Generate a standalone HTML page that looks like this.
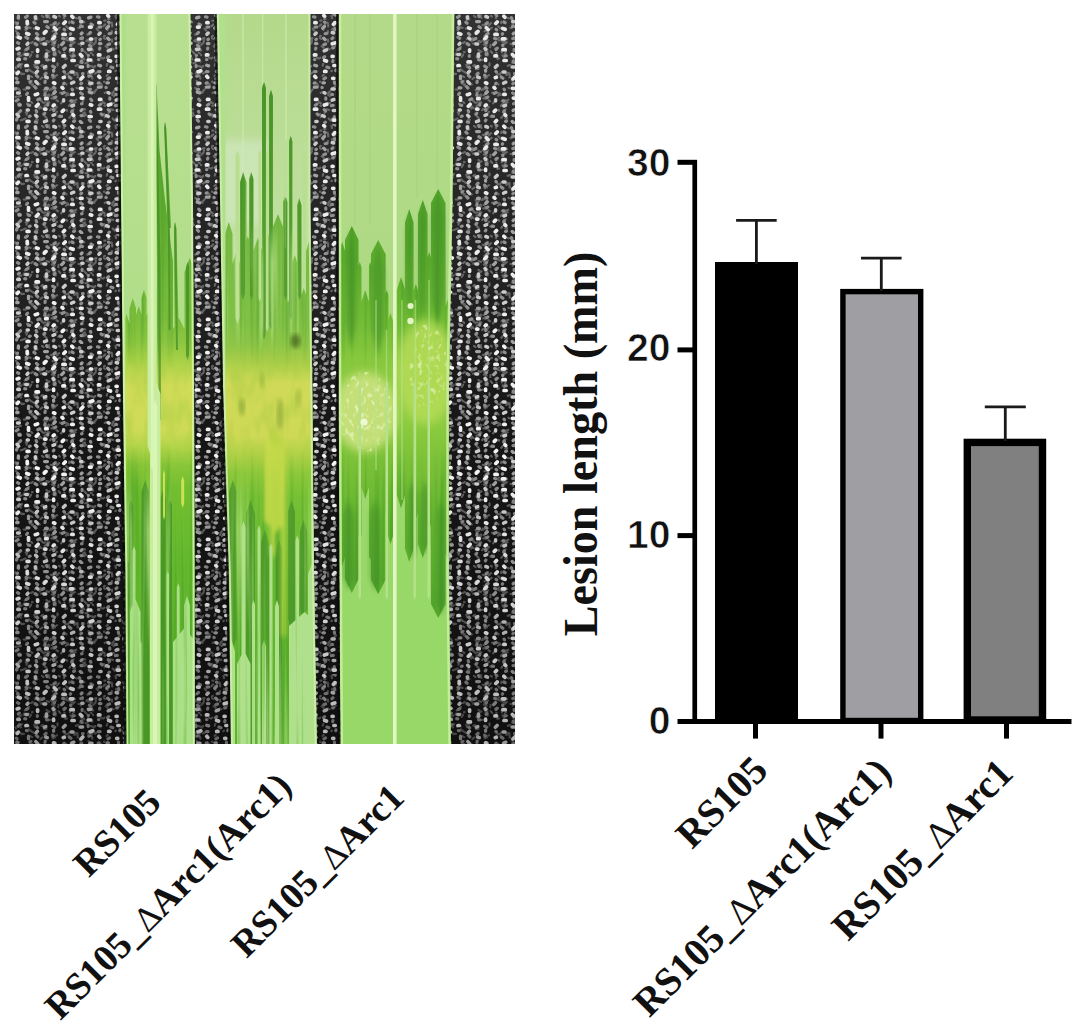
<!DOCTYPE html>
<html><head><meta charset="utf-8"><title>Figure</title>
<style>
html,body{margin:0;padding:0;background:#fff}
body{width:1083px;height:1033px;overflow:hidden;position:relative}
svg{position:absolute;left:0;top:0;display:block}
.tk{font-family:"Liberation Sans",sans-serif;font-weight:bold;font-size:39px;fill:#111;stroke:#fff;stroke-width:0.7px;paint-order:fill stroke}
.yl{font-family:"Liberation Serif",serif;font-weight:bold;font-size:48px;fill:#111}
.xl{font-family:"Liberation Serif",serif;font-weight:bold;fill:#111}
.d{font-weight:normal;font-size:0.93em}
</style></head><body>
<svg width="1083" height="1033" viewBox="0 0 1083 1033">
<defs>
<clipPath id="lc1"><polygon points="119.3,14.0 121.0,200.0 122.8,386.0 125.3,572.0 126.3,744.0 194.7,744.0 194.7,572.0 194.0,386.0 193.0,200.0 190.5,14.0"/></clipPath>
<clipPath id="lc2"><polygon points="216.8,14.0 220.0,200.0 223.0,386.0 228.7,572.0 230.8,744.0 316.8,744.0 314.0,572.0 312.3,386.0 310.5,200.0 310.5,14.0"/></clipPath>
<clipPath id="lc3"><polygon points="338.6,14.0 338.6,200.0 338.6,386.0 339.3,572.0 340.4,744.0 451.0,744.0 449.0,572.0 449.0,386.0 452.6,200.0 454.4,14.0"/></clipPath>
<linearGradient id="nobg" gradientUnits="userSpaceOnUse" x1="0" y1="0" x2="0" y2="800"><stop offset="0" stop-color="#fff"/><stop offset="0.41" stop-color="#fff"/><stop offset="0.46" stop-color="#000"/><stop offset="0.555" stop-color="#000"/><stop offset="0.61" stop-color="#fff"/><stop offset="1" stop-color="#fff"/></linearGradient>
<mask id="nob" maskUnits="userSpaceOnUse" x="0" y="0" width="600" height="800"><rect x="0" y="0" width="600" height="800" fill="url(#nobg)"/></mask>
<clipPath id="pc"><rect x="14" y="14" width="501" height="730"/></clipPath>
<linearGradient id="mlowg" gradientUnits="userSpaceOnUse" x1="0" y1="0" x2="0" y2="800"><stop offset="0.0000" stop-color="rgb(0,0,0)"/><stop offset="0.5875" stop-color="rgb(0,0,0)"/><stop offset="0.6625" stop-color="rgb(255,255,255)"/><stop offset="1.0000" stop-color="rgb(255,255,255)"/></linearGradient><mask id="mlow" maskUnits="userSpaceOnUse" x="0" y="0" width="600" height="800"><rect x="0" y="0" width="600" height="800" fill="url(#mlowg)"/></mask>
<linearGradient id="mlow2g" gradientUnits="userSpaceOnUse" x1="0" y1="0" x2="0" y2="800"><stop offset="0.0000" stop-color="rgb(0,0,0)"/><stop offset="0.7063" stop-color="rgb(0,0,0)"/><stop offset="0.8000" stop-color="rgb(255,255,255)"/><stop offset="1.0000" stop-color="rgb(255,255,255)"/></linearGradient><mask id="mlow2" maskUnits="userSpaceOnUse" x="0" y="0" width="600" height="800"><rect x="0" y="0" width="600" height="800" fill="url(#mlow2g)"/></mask>
<linearGradient id="mup2g" gradientUnits="userSpaceOnUse" x1="0" y1="0" x2="0" y2="800"><stop offset="0.0000" stop-color="rgb(0,0,0)"/><stop offset="0.2812" stop-color="rgb(0,0,0)"/><stop offset="0.3275" stop-color="rgb(255,255,255)"/><stop offset="0.4062" stop-color="rgb(255,255,255)"/><stop offset="0.4400" stop-color="rgb(0,0,0)"/><stop offset="1.0000" stop-color="rgb(0,0,0)"/></linearGradient><mask id="mup2" maskUnits="userSpaceOnUse" x="0" y="0" width="600" height="800"><rect x="0" y="0" width="600" height="800" fill="url(#mup2g)"/></mask>
<linearGradient id="mbandg" gradientUnits="userSpaceOnUse" x1="0" y1="0" x2="0" y2="800"><stop offset="0.0000" stop-color="rgb(0,0,0)"/><stop offset="0.4375" stop-color="rgb(0,0,0)"/><stop offset="0.4750" stop-color="rgb(255,255,255)"/><stop offset="0.5475" stop-color="rgb(255,255,255)"/><stop offset="0.5850" stop-color="rgb(0,0,0)"/><stop offset="1.0000" stop-color="rgb(0,0,0)"/></linearGradient><mask id="mband" maskUnits="userSpaceOnUse" x="0" y="0" width="600" height="800"><rect x="0" y="0" width="600" height="800" fill="url(#mbandg)"/></mask>
<filter id="mott" x="0" y="0" width="100%" height="100%" color-interpolation-filters="sRGB">
<feTurbulence type="fractalNoise" baseFrequency="0.09 0.035" numOctaves="2" seed="14"/>
<feColorMatrix type="matrix" values="0 0 0 0 0.50  0 0 0 0 0.74  0 0 0 0 0.18  0 0 3.2 0 -1.35"/>
<feComposite in2="SourceGraphic" operator="in"/></filter>
<linearGradient id="gz1" gradientUnits="userSpaceOnUse" x1="0" y1="0" x2="0" y2="800"><stop offset="0.1000" stop-color="#4f9a2c"/><stop offset="0.2500" stop-color="#5eaa30"/><stop offset="0.3250" stop-color="#6cb436"/><stop offset="0.4000" stop-color="#7cbe3c"/><stop offset="0.4275" stop-color="#8cc640"/><stop offset="0.4525" stop-color="#aad248"/><stop offset="0.4813" stop-color="#d0dc58"/><stop offset="0.5375" stop-color="#cedb56"/><stop offset="0.5600" stop-color="#b0d448"/><stop offset="0.5825" stop-color="#88c638"/><stop offset="0.6100" stop-color="#72be30"/><stop offset="0.7000" stop-color="#64b82c"/><stop offset="0.8250" stop-color="#5eb42c"/><stop offset="1.0000" stop-color="#60b430"/></linearGradient>
<linearGradient id="gz2" gradientUnits="userSpaceOnUse" x1="0" y1="0" x2="0" y2="800"><stop offset="0.1000" stop-color="#4f9a2c"/><stop offset="0.2250" stop-color="#62ac36"/><stop offset="0.3000" stop-color="#78ba44"/><stop offset="0.4000" stop-color="#80c046"/><stop offset="0.4313" stop-color="#8ec646"/><stop offset="0.4562" stop-color="#aed04a"/><stop offset="0.4800" stop-color="#d0da58"/><stop offset="0.5450" stop-color="#ced956"/><stop offset="0.5675" stop-color="#b2d248"/><stop offset="0.5925" stop-color="#8cc83a"/><stop offset="0.6225" stop-color="#76c034"/><stop offset="0.7000" stop-color="#68ba30"/><stop offset="0.8250" stop-color="#60b42e"/><stop offset="1.0000" stop-color="#60b432"/></linearGradient>
<linearGradient id="gz3" gradientUnits="userSpaceOnUse" x1="0" y1="0" x2="0" y2="800"><stop offset="0.1000" stop-color="#4f9a2c"/><stop offset="0.2375" stop-color="#52a42c"/><stop offset="0.3250" stop-color="#5eae2e"/><stop offset="0.4000" stop-color="#72bc36"/><stop offset="0.4500" stop-color="#88c83e"/><stop offset="0.5250" stop-color="#8ecc40"/><stop offset="0.5750" stop-color="#7cc238"/><stop offset="0.6500" stop-color="#64b430"/><stop offset="0.7500" stop-color="#56a82e"/><stop offset="1.0000" stop-color="#54a630"/></linearGradient>
<filter id="fib" x="0" y="0" width="100%" height="100%" color-interpolation-filters="sRGB">
<feTurbulence type="fractalNoise" baseFrequency="0.2 0.0035" numOctaves="2" seed="5"/>
<feColorMatrix type="matrix" values="0 0 0 0 0.22  0 0 0 0 0.56  0 0 0 0 0.12  3.4 0 0 0 -1.62"/>
<feComposite in2="SourceGraphic" operator="in"/></filter>
<filter id="fib2" x="0" y="0" width="100%" height="100%" color-interpolation-filters="sRGB">
<feTurbulence type="fractalNoise" baseFrequency="0.24 0.004" numOctaves="2" seed="31"/>
<feColorMatrix type="matrix" values="0 0 0 0 0.36  0 0 0 0 0.70  0 0 0 0 0.18  4.2 0 0 0 -2.1"/>
<feComposite in2="SourceGraphic" operator="in"/></filter>
<filter id="fleck" x="0" y="0" width="100%" height="100%" color-interpolation-filters="sRGB">
<feTurbulence type="fractalNoise" baseFrequency="0.22 0.16" numOctaves="2" seed="9"/>
<feColorMatrix type="matrix" values="0 0 0 0 0.93  0 0 0 0 0.97  0 0 0 0 0.78  0 0 4.5 0 -2.45"/>
<feComposite in2="SourceGraphic" operator="in"/></filter>
<filter id="fibp" x="0" y="0" width="100%" height="100%" color-interpolation-filters="sRGB">
<feTurbulence type="fractalNoise" baseFrequency="0.17 0.003" numOctaves="2" seed="23"/>
<feColorMatrix type="matrix" values="0 0 0 0 0.80  0 0 0 0 0.94  0 0 0 0 0.62  0 3.6 0 0 -1.85"/>
<feComposite in2="SourceGraphic" operator="in"/></filter>
<linearGradient id="pg1" gradientUnits="userSpaceOnUse" x1="0" y1="14" x2="0" y2="744"><stop offset="0" stop-color="#b8df90"/><stop offset="0.3" stop-color="#b4de8c"/><stop offset="0.75" stop-color="#a6de80"/><stop offset="1" stop-color="#a6de80"/></linearGradient>
<linearGradient id="pg2" gradientUnits="userSpaceOnUse" x1="0" y1="14" x2="0" y2="744"><stop offset="0" stop-color="#b4d98a"/><stop offset="0.3" stop-color="#bfe0a0"/><stop offset="0.75" stop-color="#a8dc86"/><stop offset="1" stop-color="#a8dc86"/></linearGradient>
<linearGradient id="pg3" gradientUnits="userSpaceOnUse" x1="0" y1="14" x2="0" y2="744"><stop offset="0" stop-color="#b3da88"/><stop offset="0.3" stop-color="#b0da86"/><stop offset="0.75" stop-color="#98d868"/><stop offset="1" stop-color="#98d868"/></linearGradient>
<pattern id="fab" patternUnits="userSpaceOnUse" x="14" y="14" width="108.0" height="110.0"><rect width="108.0" height="110.0" fill="#131313"/><path d="M5.4,34.3l0.6,0.1M28.5,63.4l-2.1,1.6M18.8,28.0l-1.7,1.0M87.4,84.4l-2.2,-0.4M38.9,23.9l2.4,-2.3M51.9,81.7l2.4,-1.8M48.4,80.0l-2.3,-1.3M93.6,16.0l-0.5,-1.0M45.1,9.1l-2.3,2.5M80.4,78.8l-1.4,-1.2M58.4,26.6l-0.2,2.2M38.9,36.7l2.4,0.6M5.1,43.7l0.7,-2.2M36.7,74.6l1.8,0.5M93.2,50.0l-0.5,1.7M40.6,83.8l-1.4,-0.8M20.1,59.3l-1.7,-1.5M23.3,50.6l-1.0,-0.3M104.3,73.0l1.8,-1.5M40.8,8.7l1.0,-0.7M29.5,3.0l-1.6,-1.2M41.9,98.9l1.1,-1.2M38.6,17.3l2.2,-0.7M80.6,77.7l2.0,-2.4M34.5,41.7l-2.1,1.9M34.8,82.7l0.1,-2.2M42.0,26.3l-2.3,-1.7M62.9,4.4l-0.9,-0.4M57.6,15.4l1.0,-1.2M76.4,71.6l-1.8,-1.5M30.2,76.6l-0.5,-0.6M91.1,25.0l-1.0,-0.8M23.4,5.3l-2.4,0.7M59.9,86.7l2.4,-1.0M70.7,98.4l-1.4,0.9M70.3,102.2l1.8,-1.3M66.8,10.5l-0.4,-0.5M7.3,41.6l-0.9,-0.0M30.1,17.8l-0.5,-0.1M18.3,71.5l-1.3,-2.0M36.6,45.8l-1.7,0.4M73.9,59.6l1.0,-2.4M41.7,39.6l-2.2,-0.5M6.7,53.5l0.4,-0.2M34.9,27.9l-2.4,-0.8M93.7,61.0l-1.2,0.8M20.3,50.7l0.6,2.3M38.7,62.1l2.2,1.4M66.2,66.8l-0.4,-0.4M29.7,88.9l1.9,-0.6M95.6,5.0l-1.8,0.0M33.1,39.2l2.4,-1.8M21.0,25.2l0.9,-1.3M1.1,58.6l-0.5,-1.3M52.3,69.9l0.2,0.6M59.3,89.1l2.3,-0.8M37.1,95.0l-0.9,1.1M73.3,73.8l2.3,1.6M17.6,66.9l-0.0,0.3M39.4,31.3l1.2,0.2M25.7,27.4l-0.9,-1.6M54.4,14.4l-2.2,-2.2M11.6,75.7l-1.9,-0.2M81.3,52.0l-1.7,1.8M91.5,6.7l-1.2,0.0M83.8,42.6l1.1,-1.2M75.4,35.6l-0.8,1.3M88.6,88.8l0.3,-0.4M74.5,67.0l1.7,1.5M14.0,41.0l0.8,-1.3M20.2,2.5l0.4,2.2M101.9,15.2l0.9,-0.4M66.7,43.1l2.2,2.4M6.1,76.6l-1.9,-2.3M30.7,78.5l2.5,-1.9M35.3,3.8l0.2,-0.1M39.8,33.8l1.5,1.7M30.5,42.5l0.6,1.3M103.0,42.3l1.0,0.2M84.2,16.6l-1.6,-2.0M98.1,27.6l-0.1,-1.9M34.7,3.0l0.3,-1.8M66.0,30.0l-1.4,-0.1M39.0,28.5l-2.2,-2.2M93.8,33.8l-2.1,-1.6M51.3,106.7l-1.5,1.8M51.4,44.9l1.5,-0.5M7.0,59.4l0.8,0.6M29.8,100.5l1.8,2.5M47.1,89.4l1.1,-1.6M3.8,18.9l-1.9,-2.1M38.3,80.9l-0.9,0.1M2.1,23.3l2.3,-2.4M55.8,86.9l1.5,1.2M42.5,86.1l1.6,1.3M103.5,11.7l2.3,-0.5M74.3,27.6l2.0,-2.4M61.0,25.1l-0.6,-0.7M69.3,86.9l-0.7,0.7M37.8,30.6l2.0,-0.9M10.8,36.5l1.2,-1.4M78.3,58.9l0.9,-1.6M12.0,16.2l-0.7,-0.3M2.0,54.3l-0.5,-0.9M56.9,101.9l-1.5,1.9M34.4,80.9l-2.0,2.4M45.7,103.0l-1.4,-0.5M74.4,19.8l-1.1,0.9M99.6,35.2l-1.6,-0.7M103.9,16.7l0.7,-0.6M68.0,23.5l0.6,1.9M90.1,67.6l0.0,0.3M12.9,89.8l0.9,-0.2M70.2,45.5l-0.6,-1.3M63.5,61.7l0.1,-2.3M66.2,48.4l0.5,0.5M97.9,17.1l-0.2,2.5M77.8,34.2l1.2,2.4M42.8,93.0l-1.9,2.5M52.1,25.8l1.7,0.7M98.5,88.9l1.5,0.1M104.3,7.9l1.9,1.1M27.1,86.6l-0.2,0.2M91.0,21.8l-1.1,0.7M8.6,59.8l1.4,-0.0M26.1,85.8l1.8,1.4M58.1,97.0l1.5,-1.7M39.0,11.6l-2.3,-0.8M90.9,89.4l-1.9,-1.6M41.4,91.0l0.6,2.0M8.5,105.7l-1.5,0.6M92.2,78.1l-1.5,0.8M45.8,2.6l-0.8,-0.9M66.5,30.5l0.5,1.0M19.8,14.6l1.0,-0.2M14.4,13.3l2.2,0.6M38.2,21.8l2.5,1.0M77.6,39.2l-0.9,-0.5M16.2,67.9l-0.4,1.6M43.5,49.4l0.0,2.2M37.0,75.6l-1.3,0.4M30.6,93.5l-1.1,1.8M71.4,49.2l2.2,-0.6M78.3,64.7l-0.3,-2.2M44.6,30.8l-0.3,2.3M31.5,74.7l0.9,-1.3M43.8,15.0l2.0,-1.2M44.7,37.2l1.6,1.8M62.4,58.9l-2.0,2.0M10.2,39.5l-0.6,1.1M70.6,37.5l2.0,2.2M3.4,68.1l-0.2,-0.7M49.3,34.5l0.9,0.5M101.9,104.5l2.5,-0.5M87.2,69.9l1.0,2.5M7.9,50.0l-0.5,0.8M23.7,105.9l-1.5,-0.7M15.9,42.8l1.2,-2.1M18.4,69.8l0.6,1.2M27.4,87.0l1.2,1.4M13.4,50.7l-2.4,1.8M99.2,96.0l-2.4,-0.7M56.7,57.6l-1.9,1.4M32.4,54.8l-1.9,0.3M14.5,10.4l0.1,-1.0M81.9,27.2l-0.4,-2.2M23.6,48.9l0.3,-0.2M89.5,12.1l1.8,-1.7M101.9,56.6l-0.5,0.6M90.8,103.2l-0.4,-2.4M17.0,87.8l1.2,1.1M17.3,57.3l-2.4,-1.9M32.3,103.4l0.7,1.7M5.8,45.1l-2.1,-1.2M12.6,98.4l-0.9,-0.1M69.0,95.0l2.2,0.3M53.1,96.8l-0.5,-1.0M77.9,28.4l-0.7,-0.4M50.6,39.0l-0.3,-0.2M6.2,89.6l-2.2,0.1M57.9,43.4l-1.4,-2.0M39.7,34.3l-0.1,-1.3M78.9,52.7l-2.5,-0.5M101.5,1.8l0.5,2.3M39.0,64.4l-0.7,-1.0M64.4,63.5l-0.9,-0.0M54.7,80.9l-2.2,-2.0M27.2,29.6l1.5,-0.4M90.4,43.6l-1.1,0.9M9.9,105.3l1.7,-0.9M34.0,87.9l1.4,0.7M6.9,81.9l-2.3,0.6M58.4,99.3l0.7,-2.4M98.2,80.8l0.4,-2.5M77.6,45.3l0.9,2.4M96.3,8.9l1.4,-0.3M79.2,41.1l-0.3,-0.3M13.3,34.9l1.2,-2.1M13.0,89.4l0.8,0.2M12.8,13.5l-0.9,2.3M59.3,98.8l-1.4,-0.4M56.8,90.0l-1.9,1.9M50.1,4.3l-0.3,-0.6M71.1,99.4l-0.0,0.9M41.4,83.5l-2.0,1.2M18.3,63.1l-1.5,-0.8M18.0,38.1l0.5,0.1M41.4,61.9l1.7,-0.7M61.7,51.9l2.4,-0.9M73.5,25.8l-1.2,1.2M60.8,28.2l-2.2,1.6M40.3,76.9l-0.3,0.6M59.2,104.4l2.0,-0.2M51.6,25.5l1.3,-2.0M32.9,90.8l-2.3,1.0M60.1,59.5l-0.8,-1.7M99.9,82.1l1.5,-2.0M82.5,24.2l-1.5,0.2M64.4,13.8l1.3,0.4M94.5,98.9l0.9,-0.7M99.9,77.2l-1.0,1.8M76.6,29.1l-1.3,-2.4M56.9,27.9l-1.0,-1.2M14.7,52.4l-1.1,-1.1M29.9,55.0l1.9,-1.7M90.4,91.6l0.5,0.2M77.3,57.7l0.8,2.1M81.6,28.5l-2.2,2.2M38.7,84.5l-1.3,-0.2M39.5,78.3l2.2,0.0M59.9,38.0l-1.3,2.2M12.5,100.7l0.8,-2.1M94.8,11.8l0.3,-1.9M103.8,33.8l1.9,-2.2M70.3,8.2l-2.4,0.4M103.2,73.6l1.8,1.4M55.2,9.2l0.1,-1.6M55.8,38.5l-0.0,-1.5M74.3,45.2l-0.1,-2.1M51.6,60.1l2.4,0.3M15.0,32.8l-0.8,1.0M98.6,104.5l2.2,2.1M90.3,100.1l-2.4,-0.1M62.4,73.7l0.6,0.6M98.1,10.2l0.1,2.3M4.3,12.8l1.8,2.3M3.5,4.4l1.6,0.9M55.1,62.5l1.3,1.5M1.1,8.2l1.5,2.4M87.7,44.2l-0.8,-0.8M2.6,82.6l-1.2,0.4M55.7,36.6l0.9,-0.2M25.4,94.5l-1.6,-1.8M27.4,51.8l1.4,-0.8M25.8,70.4l-1.2,0.1M27.5,94.0l-1.6,-1.3M32.4,35.9l1.1,0.9M83.2,58.2l-2.1,1.3M26.4,24.1l-0.4,2.4M39.6,38.8l2.1,2.5" stroke="#5e5e5e" stroke-width="2.2" stroke-linecap="round" fill="none"/><path d="M3.5,9.1l-0.1,0.3M3.7,19.7l0.6,0.4M4.7,29.4l-1.2,-0.8M5.3,39.1l-1.0,0.8M4.2,52.2l1.4,-1.5M3.0,64.7l-0.7,-0.6M2.1,74.7l-1.3,0.2M4.1,85.7l-2.0,1.1M6.6,96.8l-1.6,1.5M2.6,106.0l0.5,-1.5M12.9,14.3l-0.8,-0.8M13.7,24.3l-1.8,-1.2M13.8,34.7l-1.3,0.7M11.7,44.9l-0.9,-0.2M12.4,56.6l0.9,0.1M15.9,67.8l0.5,-0.1M12.6,80.4l0.9,-1.1M14.3,91.1l1.5,0.2M15.3,102.4l0.9,-0.3M13.4,2.0l-1.9,1.4M21.1,9.3l-1.2,-1.0M22.5,19.5l1.2,1.2M22.9,30.9l-1.8,-1.3M23.3,42.3l-0.0,-0.6M23.6,53.8l-0.9,-0.4M23.8,62.8l-1.4,-1.4M21.9,74.1l-1.3,-1.5M23.8,85.8l2.0,-1.0M22.2,96.6l0.5,1.2M21.3,107.9l1.3,0.4M32.9,12.6l1.6,1.1M29.8,24.5l-1.7,0.9M33.7,45.8l-1.1,0.1M32.1,59.3l-1.2,1.1M31.0,68.5l0.2,-1.4M31.1,79.9l-0.3,1.4M33.7,91.2l0.1,-1.2M29.9,100.1l0.9,-0.8M32.6,1.6l0.5,1.0M41.1,9.2l-1.1,0.7M42.0,19.5l-1.6,1.2M40.6,28.4l-0.4,0.6M40.2,40.5l0.7,-0.9M38.7,52.1l2.0,1.3M39.3,62.0l-0.6,-0.9M40.9,74.3l-1.2,-1.0M40.8,83.7l1.0,-0.7M39.8,96.5l-0.3,-1.0M39.4,106.8l0.5,-0.8M50.1,15.3l0.6,0.6M49.8,24.8l-1.2,-0.4M50.1,35.5l1.2,-1.3M50.4,58.1l-0.5,-0.6M50.1,69.2l-0.4,0.6M48.3,79.3l1.9,-0.8M47.6,102.3l-1.5,-0.2M50.8,1.8l-0.8,-1.1M59.1,8.7l-1.2,-0.7M56.6,19.8l-0.3,0.4M56.8,31.5l-0.1,-0.4M59.1,42.0l1.1,-0.2M56.9,64.3l-1.7,-1.3M58.1,75.2l0.4,0.6M58.0,86.9l-0.7,-0.2M58.1,96.8l-0.4,1.3M59.6,107.4l1.0,-0.4M68.4,12.4l-1.9,0.0M68.5,23.9l-1.7,0.7M68.1,35.3l-0.0,1.2M67.3,47.2l0.8,1.2M68.5,59.6l0.6,0.1M66.9,69.8l0.7,-0.5M66.7,79.0l1.7,1.2M67.6,89.8l0.4,-0.1M67.0,101.7l1.3,-0.1M65.8,4.5l-0.4,-0.8M77.0,9.9l1.5,1.2M75.3,19.6l1.2,-1.1M75.5,31.3l1.4,1.0M74.3,41.3l0.2,0.0M74.1,51.3l-0.0,1.3M76.2,61.8l-1.4,0.5M76.5,75.3l-1.1,0.2M76.8,85.1l1.0,1.4M76.5,97.5l0.3,0.7M76.5,107.3l-1.2,-1.4M85.1,13.2l1.7,-0.2M85.9,25.6l0.5,-0.5M85.6,35.0l0.2,-0.9M84.5,45.6l0.4,0.0M86.1,57.7l-1.5,-0.1M85.2,68.9l-1.0,0.2M85.4,91.2l1.3,-0.9M87.1,99.9l1.0,1.0M85.0,3.1l-1.5,-0.3M94.8,8.1l-0.4,-0.0M95.1,19.7l1.4,-0.3M95.6,30.0l-1.8,0.7M94.6,42.6l-1.0,1.1M96.9,53.1l2.0,0.7M95.5,63.9l-1.6,0.9M92.2,73.6l-0.2,-0.1M95.8,83.9l-0.0,1.3M94.2,95.7l1.4,1.2M94.8,108.7l0.6,-0.6M104.8,15.9l-0.2,-1.3M102.9,23.8l-0.9,0.9M102.7,33.9l0.7,-0.1M102.7,47.6l0.3,-1.0M106.0,55.9l-0.2,0.8M104.5,69.4l-0.1,-1.4M101.9,80.4l0.7,0.1M103.2,91.3l-1.9,0.3M104.3,102.7l0.0,0.7M105.2,1.0l-1.4,-0.6" stroke="#8e8e8e" stroke-width="3.2" stroke-linecap="round" fill="none"/><path d="M4.4,2.0l0.0,1.8M2.7,68.5l1.4,0.0M4.9,91.0l1.4,0.0M14.5,62.1l0.0,2.6M13.1,73.8l1.8,0.0M30.6,7.6l2.8,0.0M31.5,74.4l1.9,0.0M39.6,56.1l0.0,1.1M39.8,79.3l1.4,-1.5M47.7,30.6l1.9,-2.0M67.2,19.8l0.8,-0.8M67.1,96.6l0.9,-0.9M66.2,107.4l1.5,1.6M74.6,3.9l2.3,-0.8M75.2,78.1l2.5,0.9M85.4,29.6l1.5,0.0M84.7,51.2l1.9,0.7M84.3,73.2l2.6,0.0M92.8,14.2l1.6,-1.7M93.7,24.2l1.4,1.4M92.9,68.8l1.5,0.0" stroke="#a4a4a4" stroke-width="3.3" stroke-linecap="round" fill="none"/><path d="M3.7,45.6l1.7,0.0M3.5,79.0l1.8,0.0M3.0,100.3l1.7,1.8M13.0,30.2l1.0,-1.0M11.8,40.6l1.5,0.0M13.2,96.0l1.1,0.0M21.6,2.7l0.0,1.5M22.9,24.0l1.0,1.0M22.2,58.6l1.3,-1.3M21.8,67.6l1.9,2.0M21.6,101.3l1.3,1.3M29.9,29.9l1.8,0.0M32.4,39.9l0.0,2.7M30.3,53.1l1.5,-0.5M31.7,63.0l1.6,0.6M30.4,107.6l2.2,-0.8M39.8,2.5l1.8,0.7M39.0,34.6l0.8,0.9M39.0,101.3l1.7,-0.6M49.3,53.3l1.9,-1.9M49.6,85.7l0.0,1.3M57.2,57.9l1.8,0.0M57.5,69.1l2.3,-0.9M57.9,92.0l1.7,-0.6M66.6,7.4l1.3,0.0M67.8,29.3l1.2,0.0M66.1,53.0l2.5,0.0M74.3,35.2l2.6,0.0M75.8,69.3l2.2,0.0M84.9,20.3l1.3,-1.3M85.8,107.5l1.3,0.0M94.2,36.8l2.4,-0.9M94.1,78.7l1.0,0.4M92.5,101.7l1.8,0.7M102.2,18.5l1.4,0.5M102.0,75.0l2.1,0.0M102.1,86.1l1.8,-0.6M103.2,96.4l1.6,0.0" stroke="#d2d2d2" stroke-width="3.5" stroke-linecap="round" fill="none"/><path d="M2.8,13.6l2.1,0.0M4.3,23.3l2.0,0.7M3.2,34.9l1.6,-0.6M3.2,59.4l1.2,-1.3M13.2,7.3l0.0,2.5M12.7,19.4l2.1,0.8M12.0,51.5l1.2,0.0M14.5,83.6l0.0,2.6M13.1,107.4l1.9,0.0M22.6,13.9l1.5,0.5M23.6,35.8l0.0,1.5M22.0,47.9l2.5,0.0M21.3,80.7l2.3,-0.8M22.3,92.2l1.9,-1.9M30.3,19.1l1.7,-1.7M31.6,84.7l1.6,0.0M30.8,95.1l1.1,0.0M40.3,13.8l1.8,1.9M38.8,24.7l1.7,-1.8M39.6,45.2l0.0,1.3M39.6,68.8l1.2,0.5M39.2,91.8l0.9,-0.9M49.8,9.4l1.4,-1.5M48.9,20.4l2.3,0.0M48.9,41.9l1.7,0.0M49.3,63.6l1.0,-0.4M48.1,73.4l0.8,0.8M48.3,97.4l1.3,-1.3M49.3,107.7l1.2,-1.2M57.9,2.2l1.0,1.1M56.7,14.4l2.4,0.9M56.3,24.8l2.6,0.0M56.9,35.7l2.4,0.0M58.0,46.5l2.2,0.0M57.8,80.4l1.4,0.0M59.0,100.8l0.7,0.7M66.4,40.4l1.5,1.6M67.0,64.9l1.8,-1.9M66.3,74.3l1.8,0.0M67.3,84.1l1.6,0.0M75.5,13.1l1.7,0.0M76.4,25.0l1.3,0.0M74.2,46.0l2.4,0.0M76.2,57.8l2.6,-1.0M76.4,90.7l1.3,0.5M75.1,102.5l2.1,0.0M84.8,8.7l1.3,0.0M84.4,40.8l1.5,0.0M84.8,62.3l1.0,1.1M85.4,85.5l1.5,0.0M84.4,95.2l2.4,0.0M93.8,1.5l0.8,0.8M94.6,46.4l1.9,0.7M94.6,57.4l1.4,0.0M94.4,91.1l2.4,-0.9M103.4,10.2l1.6,-1.6M102.3,29.8l2.5,-0.9M102.1,42.3l1.0,0.0M103.9,51.5l1.3,0.0M102.7,64.3l1.1,0.0M103.3,106.1l2.0,0.0" stroke="#f8f8f8" stroke-width="3.7" stroke-linecap="round" fill="none"/></pattern>
<linearGradient id="bgv" x1="0" y1="0" x2="0" y2="1"><stop offset="0" stop-color="#a0a0a0" stop-opacity="0.20"/><stop offset="0.45" stop-color="#909090" stop-opacity="0.07"/><stop offset="0.62" stop-color="#000" stop-opacity="0.02"/><stop offset="1" stop-color="#000" stop-opacity="0.28"/></linearGradient>
<filter id="tex" x="0" y="0" width="100%" height="100%"><feGaussianBlur stdDeviation="0.75"/></filter>
<filter id="b2"><feGaussianBlur stdDeviation="2"/></filter><filter id="b4"><feGaussianBlur stdDeviation="5"/></filter><filter id="b1"><feGaussianBlur stdDeviation="0.7"/></filter>
</defs>
<g clip-path="url(#pc)">
<rect x="8" y="8" width="513" height="742" fill="url(#fab)" filter="url(#tex)"/>
<rect x="14" y="14" width="501" height="730" fill="url(#bgv)"/>
<g clip-path="url(#lc1)"><rect x="100" y="0" width="120" height="760" fill="url(#pg1)"/><path d="M123.0,325.2L126.5,314.0L130.0,325.2L130.0,788.8L126.5,800.0L123.0,788.8ZM129.5,308.4L132.8,298.0L136.0,308.4L136.0,789.6L132.8,800.0L129.5,789.6ZM135.5,316.4L138.8,306.0L142.0,316.4L142.0,789.6L138.8,800.0L135.5,789.6ZM141.5,298.0L144.0,290.0L146.5,298.0L146.5,792.0L144.0,800.0L141.5,792.0ZM146.0,317.8L148.8,309.0L151.5,317.8L151.5,791.2L148.8,800.0L146.0,791.2ZM157.0,314.0L164.5,300.0L172.0,314.0L172.0,786.0L164.5,800.0L157.0,786.0ZM171.5,332.0L178.8,318.0L186.0,332.0L186.0,786.0L178.8,800.0L171.5,786.0ZM184.5,272.0L189.8,258.0L195.0,272.0L195.0,786.0L189.8,800.0L184.5,786.0ZM154.6,86L155.4,80L156.6,86L159.5,150L165,200L171.5,250L173,262V340H157V262L156.5,200ZM164.2,128L165,122L166.2,128L171,228L167.5,228ZM174,228L175,222L176.4,228L179,345H174.5Z" fill="url(#gz1)"/><g mask="url(#nob)"><path d="M123.0,325.2L126.5,314.0L130.0,325.2L130.0,788.8L126.5,800.0L123.0,788.8ZM129.5,308.4L132.8,298.0L136.0,308.4L136.0,789.6L132.8,800.0L129.5,789.6ZM135.5,316.4L138.8,306.0L142.0,316.4L142.0,789.6L138.8,800.0L135.5,789.6ZM141.5,298.0L144.0,290.0L146.5,298.0L146.5,792.0L144.0,800.0L141.5,792.0ZM146.0,317.8L148.8,309.0L151.5,317.8L151.5,791.2L148.8,800.0L146.0,791.2ZM157.0,314.0L164.5,300.0L172.0,314.0L172.0,786.0L164.5,800.0L157.0,786.0ZM171.5,332.0L178.8,318.0L186.0,332.0L186.0,786.0L178.8,800.0L171.5,786.0ZM184.5,272.0L189.8,258.0L195.0,272.0L195.0,786.0L189.8,800.0L184.5,786.0ZM154.6,86L155.4,80L156.6,86L159.5,150L165,200L171.5,250L173,262V340H157V262L156.5,200ZM164.2,128L165,122L166.2,128L171,228L167.5,228ZM174,228L175,222L176.4,228L179,345H174.5Z" fill="#000" filter="url(#fib)" opacity="0.38"/></g><path d="M186.0,266.8L187.5,262.0L189.0,266.8L189.0,355.2L187.5,360.0L186.0,355.2ZM141.5,492.0L145.2,480.0L149.0,492.0L149.0,788.0L145.2,800.0L141.5,788.0ZM160.5,498.0L163.0,490.0L165.5,498.0L165.5,792.0L163.0,800.0L160.5,792.0ZM168.5,505.6L170.2,500.0L172.0,505.6L172.0,794.4L170.2,800.0L168.5,794.4ZM129.0,506.4L131.0,500.0L133.0,506.4L133.0,603.6L131.0,610.0L129.0,603.6ZM126.5,564.8L128.0,560.0L129.5,564.8L129.5,795.2L128.0,800.0L126.5,795.2ZM154.8,86L155.4,80L156.4,86L160.5,262L161,420L158.6,420L158,262ZM164.4,128L165,122L166,128L170,228L170.5,330L168.6,330L168,228ZM174.2,228L175,222L176.2,228L178,350H176Z" fill="#3f8c28" opacity="0.7" filter="url(#b1)"/><g mask="url(#mlow)"><path d="M120,460H200V760H120Z" fill="#000" filter="url(#fibp)" opacity="0.55"/></g><g mask="url(#mband)"><path d="M120,340H200V490H120Z" fill="#000" filter="url(#mott)" opacity="0.2"/></g><path d="M120.0,8.8L122.8,0.0L125.5,8.8L125.5,791.2L122.8,800.0L120.0,791.2ZM132.5,550.8L134.0,546.0L135.5,550.8L135.5,795.2L134.0,800.0L132.5,795.2ZM130.0,612.0L135.2,598.0L140.5,612.0L140.5,786.0L135.2,800.0L130.0,786.0ZM166.5,575.0L167.8,571.0L169.0,575.0L169.0,796.0L167.8,800.0L166.5,796.0ZM176.8,587.5L178.2,583.0L179.6,587.5L179.6,795.5L178.2,800.0L176.8,795.5ZM173.0,642.0L184.5,628.0L196.0,642.0L196.0,786.0L184.5,800.0L173.0,786.0ZM184.0,605.6L187.0,596.0L190.0,605.6L190.0,790.4L187.0,800.0L184.0,790.4ZM139.0,644.0L140.2,640.0L141.5,644.0L141.5,796.0L140.2,800.0L139.0,796.0Z" fill="#ace088" filter="url(#b1)"/><g mask="url(#mlow2)"><path d="M120,560H200V760H120Z" fill="#000" filter="url(#fib2)" opacity="0.5"/></g><path d="M181.2,480.8L182.7,476.0L184.2,480.8L184.2,503.2L182.7,508.0L181.2,503.2ZM163.0,474.0L164.0,470.0L165.0,474.0L165.0,516.0L164.0,520.0L163.0,516.0Z" fill="#d4e658" opacity="0.9" filter="url(#b1)"/><path d="M147.5,-26.0L152.0,-40.0L156.5,-26.0L156.5,446.0L152.0,460.0L147.5,446.0ZM150.0,394.0L155.2,380.0L160.5,394.0L160.5,826.0L155.2,840.0L150.0,826.0Z" fill="#c9eca0" filter="url(#b1)"/><path d="M150.6,-35.2L152.1,-40.0L153.6,-35.2L153.6,465.2L152.1,470.0L150.6,465.2ZM153.0,406.7L155.1,400.0L157.2,406.7L157.2,833.3L155.1,840.0L153.0,833.3Z" fill="#d8f6b4"/><path d="M120.5,14L122.2,200L124.0,386L126.5,572L127.5,744M189.3,14L191.8,200L192.8,386L193.5,572L193.5,744" stroke="#d2f2ac" stroke-width="1.8" fill="none" opacity="0.9"/></g>
<g clip-path="url(#lc2)"><rect x="200" y="0" width="140" height="760" fill="url(#pg2)"/><rect x="217" y="140" width="50" height="85" fill="#cfe6bc" opacity="0.8" filter="url(#b4)"/><path d="M225.0,234.0L228.8,222.0L232.5,234.0L232.5,788.0L228.8,800.0L225.0,788.0ZM232.0,265.6L236.2,252.0L240.5,265.6L240.5,786.4L236.2,800.0L232.0,786.4ZM240.0,182.4L243.2,172.0L246.5,182.4L246.5,789.6L243.2,800.0L240.0,789.6ZM246.0,241.6L247.8,236.0L249.5,241.6L249.5,794.4L247.8,800.0L246.0,794.4ZM249.0,179.2L251.2,172.0L253.5,179.2L253.5,792.8L251.2,800.0L249.0,792.8ZM253.0,252.0L257.8,238.0L262.5,252.0L262.5,786.0L257.8,800.0L253.0,786.0ZM262.0,88.4L264.0,82.0L266.0,88.4L266.0,793.6L264.0,800.0L262.0,793.6ZM265.5,238.4L267.5,232.0L269.5,238.4L269.5,793.6L267.5,800.0L265.5,793.6ZM269.0,96.4L271.0,90.0L273.0,96.4L273.0,793.6L271.0,800.0L269.0,793.6ZM272.5,228.0L278.0,214.0L283.5,228.0L283.5,786.0L278.0,800.0L272.5,786.0ZM283.0,202.2L285.2,195.0L287.5,202.2L287.5,792.8L285.2,800.0L283.0,792.8ZM287.0,304.0L288.2,300.0L289.5,304.0L289.5,796.0L288.2,800.0L287.0,796.0ZM289.0,141.6L290.8,136.0L292.5,141.6L292.5,794.4L290.8,800.0L289.0,794.4ZM292.0,263.8L294.8,255.0L297.5,263.8L297.5,791.2L294.8,800.0L292.0,791.2ZM297.0,205.2L299.2,198.0L301.5,205.2L301.5,792.8L299.2,800.0L297.0,792.8ZM301.0,296.8L303.8,288.0L306.5,296.8L306.5,791.2L303.8,800.0L301.0,791.2ZM306.0,251.2L309.5,240.0L313.0,251.2L313.0,788.8L309.5,800.0L306.0,788.8Z" fill="url(#gz2)"/><g mask="url(#nob)"><path d="M225.0,234.0L228.8,222.0L232.5,234.0L232.5,788.0L228.8,800.0L225.0,788.0ZM232.0,265.6L236.2,252.0L240.5,265.6L240.5,786.4L236.2,800.0L232.0,786.4ZM240.0,182.4L243.2,172.0L246.5,182.4L246.5,789.6L243.2,800.0L240.0,789.6ZM246.0,241.6L247.8,236.0L249.5,241.6L249.5,794.4L247.8,800.0L246.0,794.4ZM249.0,179.2L251.2,172.0L253.5,179.2L253.5,792.8L251.2,800.0L249.0,792.8ZM253.0,252.0L257.8,238.0L262.5,252.0L262.5,786.0L257.8,800.0L253.0,786.0ZM262.0,88.4L264.0,82.0L266.0,88.4L266.0,793.6L264.0,800.0L262.0,793.6ZM265.5,238.4L267.5,232.0L269.5,238.4L269.5,793.6L267.5,800.0L265.5,793.6ZM269.0,96.4L271.0,90.0L273.0,96.4L273.0,793.6L271.0,800.0L269.0,793.6ZM272.5,228.0L278.0,214.0L283.5,228.0L283.5,786.0L278.0,800.0L272.5,786.0ZM283.0,202.2L285.2,195.0L287.5,202.2L287.5,792.8L285.2,800.0L283.0,792.8ZM287.0,304.0L288.2,300.0L289.5,304.0L289.5,796.0L288.2,800.0L287.0,796.0ZM289.0,141.6L290.8,136.0L292.5,141.6L292.5,794.4L290.8,800.0L289.0,794.4ZM292.0,263.8L294.8,255.0L297.5,263.8L297.5,791.2L294.8,800.0L292.0,791.2ZM297.0,205.2L299.2,198.0L301.5,205.2L301.5,792.8L299.2,800.0L297.0,792.8ZM301.0,296.8L303.8,288.0L306.5,296.8L306.5,791.2L303.8,800.0L301.0,791.2ZM306.0,251.2L309.5,240.0L313.0,251.2L313.0,788.8L309.5,800.0L306.0,788.8Z" fill="#000" filter="url(#fib)" opacity="0.38"/></g><path d="M235.5,156.4L237.5,150.0L239.5,156.4L239.5,317.6L237.5,324.0L235.5,317.6ZM266.0,154.0L267.2,150.0L268.5,154.0L268.5,328.0L267.2,332.0L266.0,328.0ZM258.5,154.0L259.8,150.0L261.0,154.0L261.0,298.0L259.8,302.0L258.5,298.0ZM303.0,154.8L304.5,150.0L306.0,154.8L306.0,285.2L304.5,290.0L303.0,285.2ZM284.5,154.0L285.2,150.0L286.0,154.0L286.0,246.0L285.2,250.0L284.5,246.0Z" fill="#b8de90" filter="url(#b1)"/><path d="M262.5,86.8L264.0,82.0L265.5,86.8L265.5,335.2L264.0,340.0L262.5,335.2ZM269.5,94.8L271.0,90.0L272.5,94.8L272.5,325.2L271.0,330.0L269.5,325.2ZM241.0,180.4L243.0,174.0L245.0,180.4L245.0,293.6L243.0,300.0L241.0,293.6ZM250.0,178.8L251.5,174.0L253.0,178.8L253.0,295.2L251.5,300.0L250.0,295.2ZM289.5,140.0L290.8,136.0L292.0,140.0L292.0,316.0L290.8,320.0L289.5,316.0ZM284.0,201.8L285.5,197.0L287.0,201.8L287.0,295.2L285.5,300.0L284.0,295.2ZM298.0,204.8L299.5,200.0L301.0,204.8L301.0,295.2L299.5,300.0L298.0,295.2ZM229.0,492.0L232.8,480.0L236.5,492.0L236.5,638.0L232.8,650.0L229.0,638.0ZM246.0,514.0L250.5,500.0L255.0,514.0L255.0,786.0L250.5,800.0L246.0,786.0ZM261.0,542.8L265.0,530.0L269.0,542.8L269.0,787.2L265.0,800.0L261.0,787.2ZM276.0,549.6L279.0,540.0L282.0,549.6L282.0,790.4L279.0,800.0L276.0,790.4ZM288.0,511.2L291.5,500.0L295.0,511.2L295.0,618.8L291.5,630.0L288.0,618.8ZM300.0,531.2L303.5,520.0L307.0,531.2L307.0,608.8L303.5,620.0L300.0,608.8Z" fill="#448f2a" opacity="0.65" filter="url(#b1)"/><path d="M281.5,477.2L283.8,470.0L286.0,477.2L286.0,632.8L283.8,640.0L281.5,632.8ZM264.0,444.0L275.0,430.0L286.0,444.0L286.0,520.0L275.0,534.0L264.0,520.0ZM270.0,528.0L272.5,520.0L275.0,528.0L275.0,552.0L272.5,560.0L270.0,552.0Z" fill="#c8dc4c" opacity="0.85" filter="url(#b2)"/><g mask="url(#mup2)"><path d="M215,220H322V360H215Z" fill="#000" filter="url(#fibp)" opacity="0.6"/></g><g mask="url(#mlow)"><path d="M215,460H322V760H215Z" fill="#000" filter="url(#fibp)" opacity="0.65"/></g><g mask="url(#mband)"><path d="M215,340H322V490H215Z" fill="#000" filter="url(#mott)" opacity="0.2"/></g><path d="M217.0,13.6L221.2,0.0L225.5,13.6L225.5,786.4L221.2,800.0L217.0,786.4ZM241.5,527.4L243.5,521.0L245.5,527.4L245.5,793.6L243.5,800.0L241.5,793.6ZM237.0,664.0L243.8,650.0L250.5,664.0L250.5,786.0L243.8,800.0L237.0,786.0ZM257.5,529.8L259.0,525.0L260.5,529.8L260.5,795.2L259.0,800.0L257.5,795.2ZM269.5,547.8L271.0,543.0L272.5,547.8L272.5,795.2L271.0,800.0L269.5,795.2ZM295.5,540.6L297.2,535.0L299.0,540.6L299.0,794.4L297.2,800.0L295.5,794.4ZM289.0,626.0L304.5,612.0L320.0,626.0L320.0,786.0L304.5,800.0L289.0,786.0ZM262.0,646.4L264.0,640.0L266.0,646.4L266.0,793.6L264.0,800.0L262.0,793.6ZM308.0,574.0L313.0,560.0L318.0,574.0L318.0,786.0L313.0,800.0L308.0,786.0ZM228.0,651.2L231.5,640.0L235.0,651.2L235.0,788.8L231.5,800.0L228.0,788.8ZM252.0,604.8L253.5,600.0L255.0,604.8L255.0,795.2L253.5,800.0L252.0,795.2ZM275.0,606.4L277.0,600.0L279.0,606.4L279.0,793.6L277.0,800.0L275.0,793.6Z" fill="#b0e08c" filter="url(#b1)"/><g mask="url(#mlow2)"><path d="M215,560H322V760H215Z" fill="#000" filter="url(#fib2)" opacity="0.5"/></g><ellipse cx="295.5" cy="341" rx="5" ry="7" fill="#4a6a22" opacity="0.8" filter="url(#b2)"/><ellipse cx="242" cy="407" rx="2.6" ry="9" fill="#7a9a30" opacity="0.65" filter="url(#b2)"/><ellipse cx="280" cy="414" rx="2.8" ry="16" fill="#7a9a30" opacity="0.6" filter="url(#b2)"/><ellipse cx="298.5" cy="398" rx="2.4" ry="9" fill="#7a9a30" opacity="0.4" filter="url(#b2)"/><ellipse cx="262" cy="380" rx="2.4" ry="8" fill="#7a9a30" opacity="0.35" filter="url(#b2)"/><path d="M262.6,10V84M286,10V140M243,10V170" stroke="#cdeeb0" stroke-width="1.4" fill="none" opacity="0.7"/><path d="M218.0,14L221.2,200L224.2,386L229.9,572L232.0,744M309.3,14L309.3,200L311.1,386L312.8,572L315.6,744" stroke="#cdeea8" stroke-width="1.8" fill="none" opacity="0.9"/></g>
<g clip-path="url(#lc3)"><rect x="330" y="0" width="140" height="760" fill="url(#pg3)"/><path d="M339.0,252.4L342.2,242.0L345.5,252.4L345.5,555.6L342.2,566.0L339.0,555.6ZM345.0,240.0L351.8,226.0L358.5,240.0L358.5,579.0L351.8,593.0L345.0,579.0ZM358.0,267.6L359.8,262.0L361.5,267.6L361.5,534.4L359.8,540.0L358.0,534.4ZM361.0,303.6L365.2,290.0L369.5,303.6L369.5,485.4L365.2,499.0L361.0,485.4ZM369.0,266.0L370.2,262.0L371.5,266.0L371.5,556.0L370.2,560.0L369.0,556.0ZM371.0,254.0L378.2,240.0L385.5,254.0L385.5,580.0L378.2,594.0L371.0,580.0ZM385.0,295.6L386.8,290.0L388.5,295.6L388.5,511.4L386.8,517.0L385.0,511.4ZM388.0,321.0L390.5,313.0L393.0,321.0L393.0,536.0L390.5,544.0L388.0,536.0ZM396.5,291.0L401.0,277.0L405.5,291.0L405.5,494.0L401.0,508.0L396.5,494.0ZM405.0,222.6L409.2,209.0L413.5,222.6L413.5,548.4L409.2,562.0L405.0,548.4ZM413.0,292.8L415.8,284.0L418.5,292.8L418.5,511.2L415.8,520.0L413.0,511.2ZM418.0,214.0L422.8,200.0L427.5,214.0L427.5,544.0L422.8,558.0L418.0,544.0ZM427.0,259.2L429.2,252.0L431.5,259.2L431.5,522.8L429.2,530.0L427.0,522.8ZM431.0,203.0L438.2,189.0L445.5,203.0L445.5,604.0L438.2,618.0L431.0,604.0ZM445.0,308.0L447.5,300.0L450.0,308.0L450.0,552.0L447.5,560.0L445.0,552.0Z" fill="url(#gz3)"/><g mask="url(#nob)"><path d="M339.0,252.4L342.2,242.0L345.5,252.4L345.5,555.6L342.2,566.0L339.0,555.6ZM345.0,240.0L351.8,226.0L358.5,240.0L358.5,579.0L351.8,593.0L345.0,579.0ZM358.0,267.6L359.8,262.0L361.5,267.6L361.5,534.4L359.8,540.0L358.0,534.4ZM361.0,303.6L365.2,290.0L369.5,303.6L369.5,485.4L365.2,499.0L361.0,485.4ZM369.0,266.0L370.2,262.0L371.5,266.0L371.5,556.0L370.2,560.0L369.0,556.0ZM371.0,254.0L378.2,240.0L385.5,254.0L385.5,580.0L378.2,594.0L371.0,580.0ZM385.0,295.6L386.8,290.0L388.5,295.6L388.5,511.4L386.8,517.0L385.0,511.4ZM388.0,321.0L390.5,313.0L393.0,321.0L393.0,536.0L390.5,544.0L388.0,536.0ZM396.5,291.0L401.0,277.0L405.5,291.0L405.5,494.0L401.0,508.0L396.5,494.0ZM405.0,222.6L409.2,209.0L413.5,222.6L413.5,548.4L409.2,562.0L405.0,548.4ZM413.0,292.8L415.8,284.0L418.5,292.8L418.5,511.2L415.8,520.0L413.0,511.2ZM418.0,214.0L422.8,200.0L427.5,214.0L427.5,544.0L422.8,558.0L418.0,544.0ZM427.0,259.2L429.2,252.0L431.5,259.2L431.5,522.8L429.2,530.0L427.0,522.8ZM431.0,203.0L438.2,189.0L445.5,203.0L445.5,604.0L438.2,618.0L431.0,604.0ZM445.0,308.0L447.5,300.0L450.0,308.0L450.0,552.0L447.5,560.0L445.0,552.0Z" fill="#000" filter="url(#fib)" opacity="0.38"/></g><path d="M346.0,256.0L351.0,230.0L356.0,256.0L356.0,324.0L351.0,350.0L346.0,324.0ZM372.0,270.0L378.0,244.0L384.0,270.0L384.0,330.0L378.0,356.0L372.0,330.0ZM406.0,234.0L409.0,212.0L412.0,234.0L412.0,298.0L409.0,320.0L406.0,298.0ZM419.0,225.0L422.5,203.0L426.0,225.0L426.0,300.0L422.5,322.0L419.0,300.0ZM432.0,218.0L438.0,192.0L444.0,218.0L444.0,300.0L438.0,326.0L432.0,300.0ZM343.0,514.0L348.5,500.0L354.0,514.0L354.0,577.0L348.5,591.0L343.0,577.0ZM370.0,514.0L375.0,500.0L380.0,514.0L380.0,578.0L375.0,592.0L370.0,578.0ZM408.0,494.0L412.5,480.0L417.0,494.0L417.0,546.0L412.5,560.0L408.0,546.0ZM421.0,492.8L425.0,480.0L429.0,492.8L429.0,543.2L425.0,556.0L421.0,543.2ZM437.0,512.8L441.0,500.0L445.0,512.8L445.0,603.2L441.0,616.0L437.0,603.2Z" fill="#3f8c28" opacity="0.5" filter="url(#b2)"/><ellipse cx="426" cy="372" rx="30" ry="52" fill="#b6dc58" opacity="0.85" filter="url(#b4)"/><ellipse cx="365" cy="412" rx="32" ry="40" fill="#cae27e" opacity="0.9" filter="url(#b4)"/><g filter="url(#b1)"><ellipse cx="365" cy="412" rx="27" ry="40" fill="#fff" filter="url(#fleck)" opacity="0.7"/><ellipse cx="428" cy="368" rx="19" ry="44" fill="#fff" filter="url(#fleck)" opacity="0.6"/></g><path d="M358.5,384.0L359.8,380.0L361.0,384.0L361.0,596.0L359.8,600.0L358.5,596.0ZM413.5,384.0L414.8,380.0L416.0,384.0L416.0,596.0L414.8,600.0L413.5,596.0ZM427.5,384.0L428.8,380.0L430.0,384.0L430.0,596.0L428.8,600.0L427.5,596.0ZM385.5,384.0L386.8,380.0L388.0,384.0L388.0,596.0L386.8,600.0L385.5,596.0Z" fill="#b4e08a" filter="url(#b1)"/><path d="M393.0,5.8L394.8,0.0L396.6,5.8L396.6,794.2L394.8,800.0L393.0,794.2Z" fill="#e2f6c4"/><circle cx="410.5" cy="306" r="3" fill="#e4f4c4"/><circle cx="410.5" cy="321" r="3.2" fill="#e4f4c4"/><circle cx="364" cy="422" r="3.6" fill="#eef8d4"/><path d="M370,10V225M437,10V188M417,10V198M355,10V225" stroke="#98c870" stroke-width="1.2" fill="none" opacity="0.35"/><path d="M376,300V470M386.5,330V520M402,300V500M415.5,300V520M429,280V520" stroke="#b8e690" stroke-width="1.6" fill="none" opacity="0.55"/><path d="M340.1,14L340.1,200L340.1,386L340.8,572L341.9,744M452.9,14L451.1,200L447.5,386L447.5,572L449.5,744" stroke="#c8f0a0" stroke-width="2.4" fill="none" opacity="0.9"/></g>
<path d="M118.1,14L119.8,200L121.6,386L124.1,572L125.1,744" stroke="#0a0a0a" stroke-width="2.4" fill="none" opacity="0.8"/>
<path d="M215.6,14L218.8,200L221.8,386L227.5,572L229.6,744" stroke="#0a0a0a" stroke-width="2.4" fill="none" opacity="0.8"/>
<path d="M337.4,14L337.4,200L337.4,386L338.1,572L339.2,744" stroke="#0a0a0a" stroke-width="2.4" fill="none" opacity="0.8"/>
</g>
<rect x="715" y="262" width="83" height="459.5" fill="#000"/>
<rect x="842.9" y="291.6" width="77.8" height="428.9" fill="#9f9fa3" stroke="#000" stroke-width="5.4"/>
<rect x="967.3" y="442.4" width="75.2" height="277.6" fill="#808080" stroke="#000" stroke-width="7.4"/>
<path d="M736.1,220.3H776.6999999999999M756.4,220.3V264" stroke="#1a1a1a" stroke-width="2.8" fill="none"/>
<path d="M861.0,258.2H901.5999999999999M881.3,258.2V291" stroke="#1a1a1a" stroke-width="2.8" fill="none"/>
<path d="M984.8,406.9H1025.8M1005.3,406.9V441" stroke="#1a1a1a" stroke-width="2.8" fill="none"/>
<path d="M694.75,160V724.0" stroke="#000" stroke-width="4.7"/>
<path d="M677.5,721.5H1071.5" stroke="#000" stroke-width="5"/>
<path d="M677.5,535.6H697" stroke="#000" stroke-width="5"/>
<path d="M677.5,349.9H697" stroke="#000" stroke-width="5"/>
<path d="M677.5,162.3H697" stroke="#000" stroke-width="5"/>
<path d="M755.5,721.5V738.6" stroke="#000" stroke-width="5"/>
<path d="M881,721.5V738.6" stroke="#000" stroke-width="5"/>
<path d="M1006.5,721.5V738.6" stroke="#000" stroke-width="5"/>
<text x="670.5" y="733.8" text-anchor="end" class="tk">0</text>
<text x="670.5" y="547.7" text-anchor="end" class="tk">10</text>
<text x="670.5" y="361.4" text-anchor="end" class="tk">20</text>
<text x="670.5" y="175.9" text-anchor="end" class="tk">30</text>
<text transform="translate(596.5,444) rotate(-90) scale(0.962,1)" text-anchor="middle" class="yl">Lesion length (mm)</text>
<text transform="translate(769.8,772.4) rotate(-45) scale(1.0,1)" text-anchor="end" class="xl" font-size="39.6">RS105</text>
<text transform="translate(893.4,774.2) rotate(-45) scale(1.0,1)" text-anchor="end" class="xl" font-size="39.6">RS105_<tspan class="d">Δ</tspan>Arc1(Arc1)</text>
<text transform="translate(1015,775.2) rotate(-45) scale(1.0,1)" text-anchor="end" class="xl" font-size="39.6">RS105_<tspan class="d">Δ</tspan>Arc1</text>
<text transform="translate(162.9,804.3) rotate(-45) scale(1.0,1)" text-anchor="end" class="xl" font-size="37.8">RS105</text>
<text transform="translate(293.4,788.1) rotate(-45) scale(1.0,1)" text-anchor="end" class="xl" font-size="37.8">RS105_<tspan class="d">Δ</tspan>Arc1(Arc1)</text>
<text transform="translate(406,799.6) rotate(-45) scale(1.0,1)" text-anchor="end" class="xl" font-size="37.8">RS105_<tspan class="d">Δ</tspan>Arc1</text>
</svg>
</body></html>
